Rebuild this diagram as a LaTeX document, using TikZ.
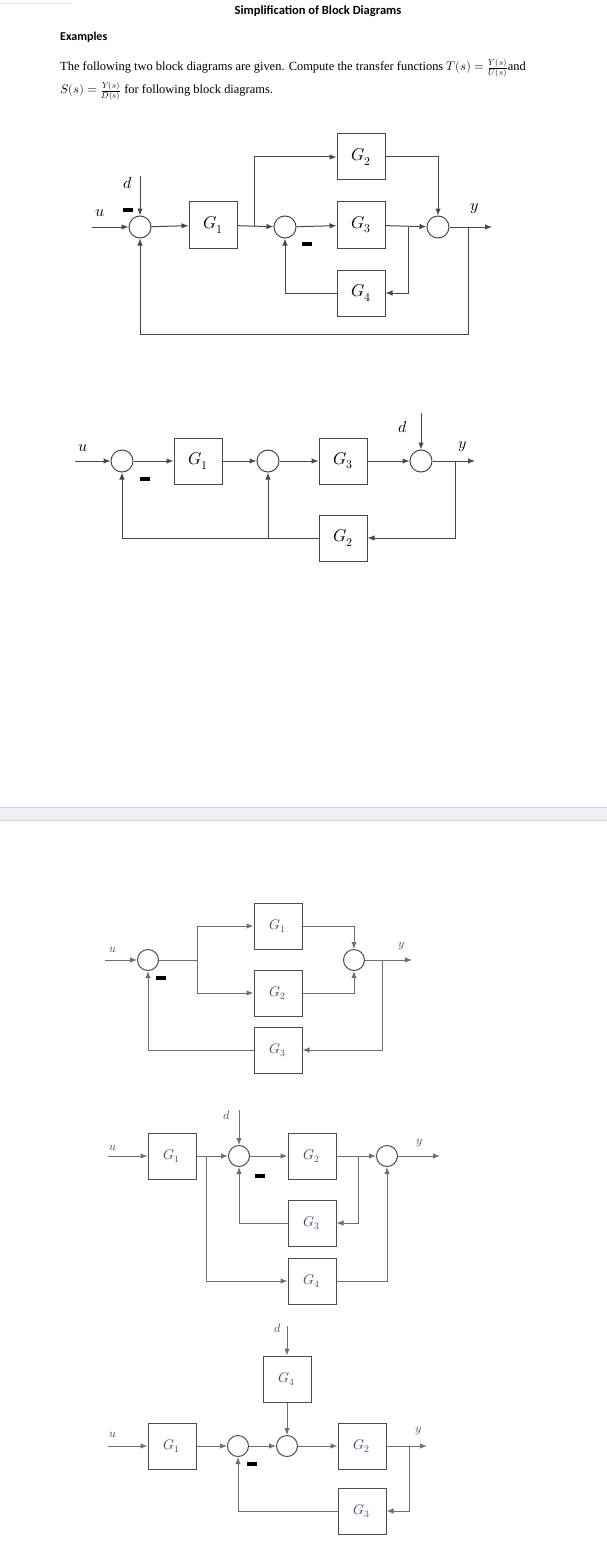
\documentclass[tikz,border=0pt]{standalone}
\usepackage{fontspec}
\usepackage{unicode-math}
\setmainfont{Liberation Serif}
\newfontfamily\calibri{Carlito}
\usepackage{tikz}
\usetikzlibrary{arrows.meta}
\usetikzlibrary{positioning}
\definecolor{linegray}{HTML}{484848}
\definecolor{softgray}{HTML}{707070}
\definecolor{labelblue}{HTML}{3E4A72}
\definecolor{barfill}{HTML}{EFEFF4}
\definecolor{barline}{HTML}{D2D2D8}

\begin{document}
\begin{tikzpicture}[x=1pt, y=-1pt,
      >={Latex[length=7pt,width=5.5pt]},
      block/.style ={rectangle, draw=linegray, line width=1pt, minimum width=48pt, minimum height=46pt, font=\fontsize{17}{17}\selectfont},
      sum/.style   ={circle, draw=linegray, line width=1pt, minimum size=22pt, inner sep=0pt},
      minus/.style ={rectangle, fill=black, minimum width=10pt, minimum height=3.5pt, inner sep=0pt},
      lbl/.style   ={font=\fontsize{16}{16}\selectfont},
      wire/.style  ={draw=linegray, line width=1pt},
      sblock/.style={block, draw=black!70, text=labelblue, font=\fontsize{14}{14}\selectfont},
      ssum/.style  ={sum, draw=black!70, minimum size=21pt},
      slbl/.style  ={text=labelblue, font=\fontsize{12}{12}\selectfont},
      swire/.style ={draw=softgray, line width=1pt},
      txt/.style   ={anchor=base west, inner sep=0pt, font=\fontsize{12.45}{14}\selectfont}
    ]
    \useasboundingbox (0,0) rectangle (607,1541);
    \draw [gray!20] (0,3) -- (70,3);

    % heading and task
    \node [anchor=base, inner sep=0pt, font=\calibri\bfseries\fontsize{12.5}{14}\selectfont] (title) at (318,15) {Simplification of Block Diagrams};
    \node [txt, font=\calibri\bfseries\fontsize{12}{14}\selectfont] (examples) at (60,41) {Examples};
    \node [txt] (task1) at (60,71) {The following two block diagrams are given. Compute the transfer functions $T(s)=\frac{Y(s)}{U(s)}$and};
    \node [txt] (task2) at (60,94) {$S(s)=\frac{Y(s)}{D(s)}$ for following block diagrams.};

    % diagram 1
    \node [sum] (s11) at (140,227) {};
    \node [block] (g11) at (213,225) {$G_1$};
    \node [sum] (s12) at (285,227) {};
    \node [block] (g12) at (361,157) {$G_2$};
    \node [block] (g13) at (361,225) {$G_3$};
    \node [block] (g14) at (361,293) {$G_4$};
    \node [sum] (s13) at (438,227) {};
    \node [minus] (m11) at (128,210) {};
    \node [minus] (m12) at (307,244) {};
    \node [lbl] (lu1) at (100,213) {$u$};
    \node [lbl] (ld1) at (128,183) {$d$};
    \node [lbl] (ly1) at (475,209) {$y$};
    \coordinate (u1) at (92,227);
    \coordinate (d1) at (140,176);
    \coordinate (y1) at (492,227);
    \coordinate (b11) at (254,227);
    \coordinate (b12) at (408,227);
    \coordinate (b13) at (468,227);
    \coordinate (c11) at (468,334);

    \draw [wire, ->] (u1) -- (s11);
    \draw [wire, ->] (d1) -- (s11);
    \draw [wire, ->] (s11) -- (g11);
    \draw [wire, ->] (g11) -- (s12);
    \draw [wire, ->] (b11) |- (g12);
    \draw [wire, ->] (s12) -- (g13);
    \draw [wire, ->] (g13) -- (s13);
    \draw [wire, ->] (g12) -| (s13);
    \draw [wire, ->] (b12) |- (g14);
    \draw [wire, ->] (g14) -| (s12);
    \draw [wire, ->] (s13) -- (y1);
    \draw [wire, ->] (b13) -- (c11) -| (s11);

    % diagram 2
    \node [sum] (s21) at (122,461) {};
    \node [block] (g21) at (198,461) {$G_1$};
    \node [sum] (s22) at (268,461) {};
    \node [block] (g23) at (343,461) {$G_3$};
    \node [sum] (s23) at (421,461) {};
    \node [block] (g22) at (343,538) {$G_2$};
    \node [minus] (m21) at (145,479) {};
    \node [lbl] (lu2) at (83,448) {$u$};
    \node [lbl] (ld2) at (403,427) {$d$};
    \node [lbl] (ly2) at (463,447) {$y$};
    \coordinate (u2) at (75,461);
    \coordinate (d2) at (421,413);
    \coordinate (y2) at (475,461);
    \coordinate (b21) at (455,461);
    \coordinate (b22) at (268,538);

    \draw [wire, ->] (u2) -- (s21);
    \draw [wire, ->] (s21) -- (g21);
    \draw [wire, ->] (g21) -- (s22);
    \draw [wire, ->] (s22) -- (g23);
    \draw [wire, ->] (g23) -- (s23);
    \draw [wire, ->] (d2) -- (s23);
    \draw [wire, ->] (s23) -- (y2);
    \draw [wire, ->] (b21) |- (g22);
    \draw [wire, ->] (g22) -| (s21);
    \draw [wire, ->] (b22) -- (s22);

    % page break
    \draw [barline, fill=barfill] (-1,807) rectangle (608,820);

    % diagram 3
    \node [ssum] (s31) at (148,960) {};
    \node [sblock] (g31) at (278,926) {$G_1$};
    \node [sblock] (g32) at (278,993) {$G_2$};
    \node [sblock] (g33) at (278,1050) {$G_3$};
    \node [ssum] (s32) at (354,960) {};
    \node [minus] (m31) at (161,978) {};
    \node [slbl] (lu3) at (113,950) {$u$};
    \node [slbl] (ly3) at (402,946) {$y$};
    \coordinate (u3) at (105,960);
    \coordinate (y3) at (412,960);
    \coordinate (b31) at (197,960);
    \coordinate (b32) at (382,960);

    \draw [swire, ->] (u3) -- (s31);
    \draw [swire] (s31) -- (b31);
    \draw [swire, ->] (b31) |- (g31);
    \draw [swire, ->] (b31) |- (g32);
    \draw [swire, ->] (g31) -| (s32);
    \draw [swire, ->] (g32) -| (s32);
    \draw [swire, ->] (s32) -- (y3);
    \draw [swire, ->] (b32) |- (g33);
    \draw [swire, ->] (g33) -| (s31);

    % diagram 4
    \node [sblock] (g41) at (172,1156) {$G_1$};
    \node [ssum] (s41) at (239,1156) {};
    \node [sblock] (g42) at (312,1156) {$G_2$};
    \node [sblock] (g43) at (312,1223) {$G_3$};
    \node [sblock] (g44) at (312,1281) {$G_4$};
    \node [ssum] (s42) at (387,1156) {};
    \node [minus] (m41) at (260,1176) {};
    \node [slbl] (ld4) at (227,1115) {$d$};
    \node [slbl] (lu4) at (113,1148) {$u$};
    \node [slbl] (ly4) at (420,1143) {$y$};
    \coordinate (u4) at (108,1156);
    \coordinate (d4) at (239,1110);
    \coordinate (y4) at (440,1156);
    \coordinate (b41) at (206,1156);
    \coordinate (b42) at (358,1156);

    \draw [swire, ->] (u4) -- (g41);
    \draw [swire, ->] (g41) -- (s41);
    \draw [swire, ->] (d4) -- (s41);
    \draw [swire, ->] (b41) |- (g44);
    \draw [swire, ->] (s41) -- (g42);
    \draw [swire, ->] (g42) -- (s42);
    \draw [swire, ->] (b42) |- (g43);
    \draw [swire, ->] (g43) -| (s41);
    \draw [swire, ->] (g44) -| (s42);
    \draw [swire, ->] (s42) -- (y4);

    % diagram 5
    \node [sblock] (g54) at (287,1379) {$G_4$};
    \node [sblock] (g51) at (172,1446) {$G_1$};
    \node [ssum] (s51) at (238,1446) {};
    \node [ssum] (s52) at (287,1446) {};
    \node [sblock] (g52) at (362,1446) {$G_2$};
    \node [sblock] (g53) at (362,1511) {$G_3$};
    \node [minus] (m51) at (252,1464) {};
    \node [slbl] (ld5) at (278,1328) {$d$};
    \node [slbl] (lu5) at (113,1435) {$u$};
    \node [slbl] (ly5) at (419,1431) {$y$};
    \coordinate (u5) at (108,1446);
    \coordinate (d5) at (287,1326);
    \coordinate (y5) at (427,1446);
    \coordinate (b51) at (409,1446);

    \draw [swire, ->] (d5) -- (g54);
    \draw [swire, ->] (g54) -- (s52);
    \draw [swire, ->] (u5) -- (g51);
    \draw [swire, ->] (g51) -- (s51);
    \draw [swire, ->] (s51) -- (s52);
    \draw [swire, ->] (s52) -- (g52);
    \draw [swire, ->] (g52) -- (y5);
    \draw [swire, ->] (b51) |- (g53);
    \draw [swire, ->] (g53) -| (s51);
  \end{tikzpicture}
\end{document}
